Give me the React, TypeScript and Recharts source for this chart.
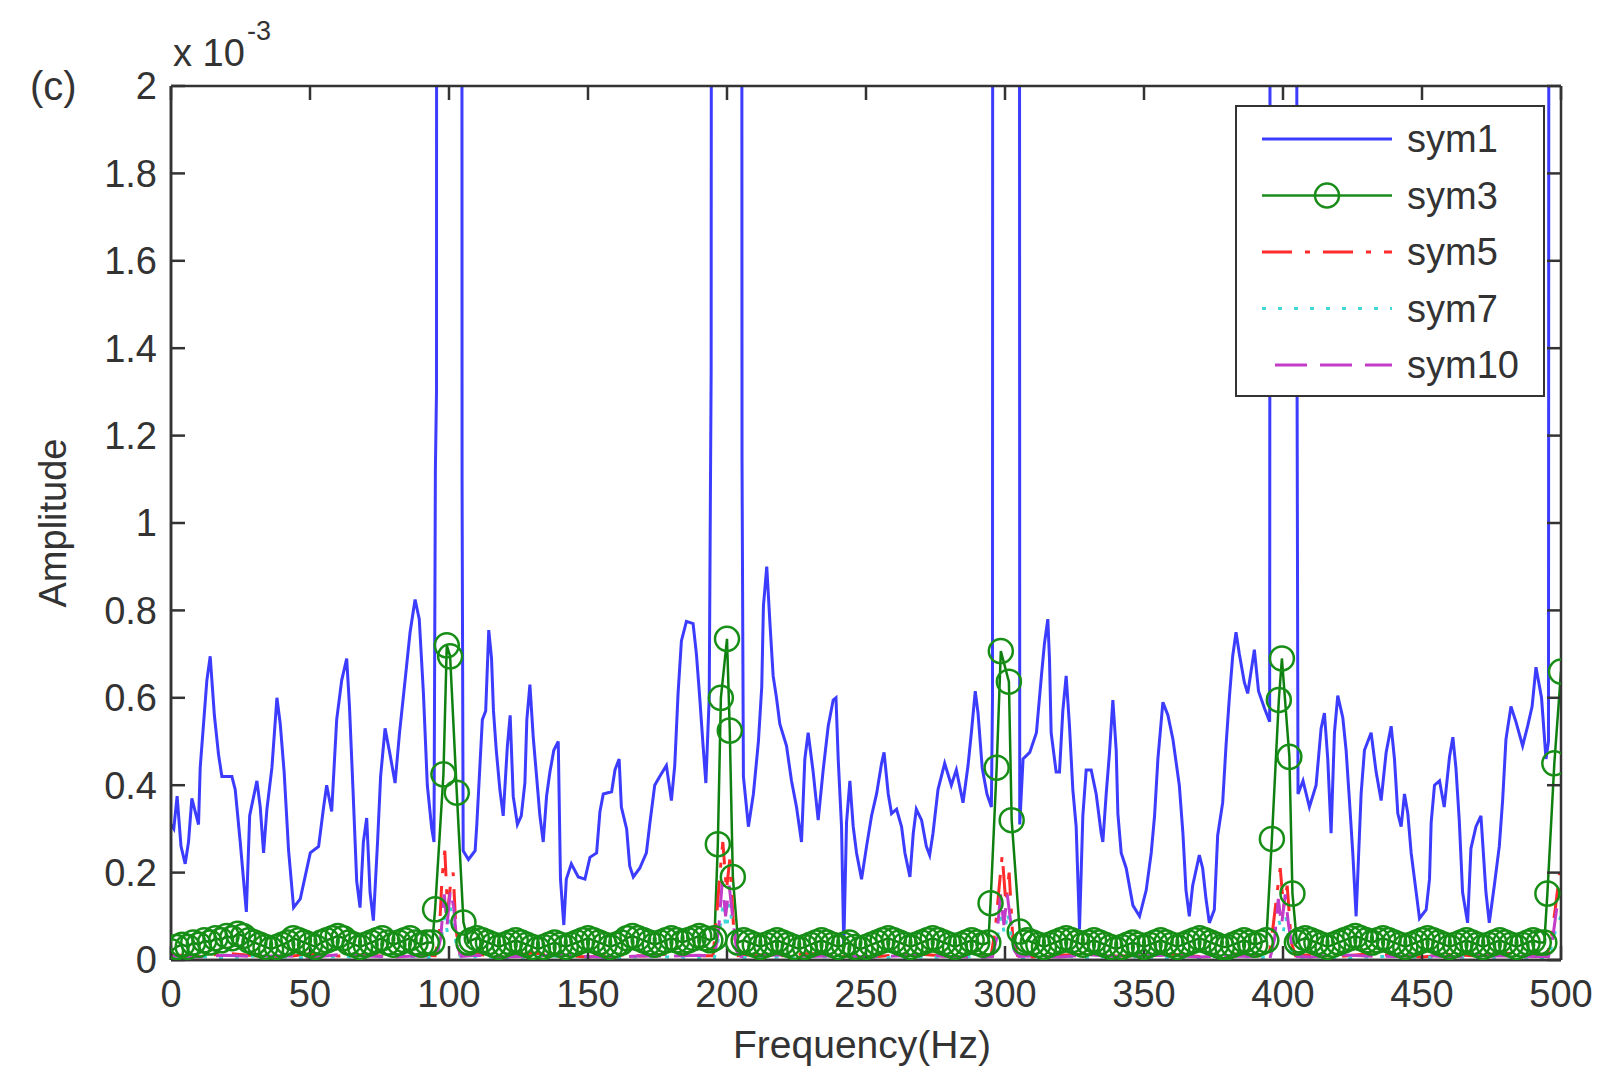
import React from 'react';
import { LineChart, Line, XAxis, YAxis, Legend } from 'recharts';

type Pt = [number, number];

const freqTicks = [0, 50, 100, 150, 200, 250, 300, 350, 400, 450, 500];
const ampTicks = [0, 0.2, 0.4, 0.6, 0.8, 1, 1.2, 1.4, 1.6, 1.8, 2];

// sym1 spectrum vertices (Hz, amplitude x1e-3); the 8s are the off-scale harmonics
const sym1Spectrum: Pt[] = [
  [0, 0.31], [1, 0.3], [2.2, 0.375], [3.6, 0.26], [5.1, 0.22], [6.3, 0.27], [7.5, 0.37], [9.9, 0.31],
  [10.5, 0.44], [12.9, 0.64], [14.1, 0.695], [15.6, 0.56], [17.1, 0.47], [18.3, 0.42], [21.9, 0.42],
  [23.1, 0.39], [24.9, 0.27], [27.1, 0.11], [28.3, 0.33], [30.9, 0.41], [32.1, 0.35], [33.3, 0.245],
  [34.5, 0.345], [36.3, 0.44], [38.1, 0.6], [39.3, 0.54], [40.7, 0.43], [42.3, 0.25], [44.1, 0.12],
  [46.5, 0.14], [50.1, 0.245], [53.1, 0.26], [54.9, 0.35], [56, 0.4], [57.8, 0.34], [59.6, 0.55],
  [61.4, 0.64], [63.2, 0.69], [64.2, 0.58], [65.4, 0.4], [66.8, 0.18], [68, 0.12], [69.2, 0.27],
  [70.4, 0.325], [71.6, 0.155], [72.8, 0.09], [74.3, 0.27], [75.4, 0.42], [77, 0.53], [78.8, 0.47],
  [80.6, 0.405], [82.2, 0.52], [84.2, 0.64], [86, 0.75], [87.8, 0.825], [89.3, 0.78], [90.8, 0.61],
  [92.2, 0.4], [93.8, 0.3], [94.6, 0.27], [95.1, 1.12], [95.5, 1.3], [95.8, 8], [104.4, 8],
  [104.7, 1.1], [105.1, 0.25], [107, 0.23], [109.4, 0.25], [110, 0.31], [111, 0.43], [112, 0.55],
  [113.2, 0.57], [114.3, 0.755], [115.3, 0.69], [116, 0.57], [117, 0.48], [118.3, 0.39], [119.5, 0.33],
  [121, 0.49], [122, 0.56], [123.1, 0.375], [124.6, 0.31], [126, 0.33], [127.3, 0.405], [128, 0.55],
  [129.1, 0.63], [130.3, 0.51], [131.5, 0.42], [132.7, 0.33], [133.9, 0.27], [135.1, 0.375],
  [136.3, 0.43], [137.7, 0.48], [139.3, 0.5], [140.1, 0.185], [141.3, 0.08], [142.2, 0.185],
  [144, 0.22], [146.5, 0.19], [148.9, 0.185], [150.7, 0.235], [153.1, 0.245], [154.3, 0.34],
  [155.5, 0.38], [158.5, 0.385], [159.7, 0.435], [161.2, 0.46], [162, 0.35], [163.9, 0.3],
  [165, 0.215], [166.3, 0.19], [168.6, 0.21], [171, 0.245], [172.2, 0.31], [174, 0.4], [175.8, 0.42],
  [178.2, 0.445], [180, 0.365], [181.2, 0.445], [182.4, 0.61], [183.6, 0.73], [185.4, 0.775],
  [187.8, 0.77], [189, 0.7], [190.2, 0.6], [191.4, 0.49], [192.4, 0.405], [193.6, 0.6], [194.3, 1.35],
  [194.8, 8], [205, 8], [205.4, 1.15], [205.9, 0.42], [207.7, 0.305], [209.5, 0.38], [211.3, 0.5],
  [212.5, 0.625], [213.1, 0.81], [214.3, 0.9], [215.5, 0.765], [216.6, 0.65], [217.8, 0.6], [219, 0.54],
  [221.4, 0.49], [223.2, 0.41], [225, 0.35], [226.8, 0.27], [228, 0.46], [229.2, 0.52], [231, 0.43],
  [232.8, 0.32], [234.6, 0.435], [236.4, 0.535], [238.2, 0.595], [239.2, 0.6], [240, 0.46],
  [241.2, 0.305], [242, 0.03], [243, 0.315], [244.2, 0.41], [245.4, 0.305], [246.6, 0.245],
  [248.4, 0.185], [250.2, 0.26], [252, 0.33], [253.8, 0.38], [255.6, 0.45], [256.5, 0.475], [258, 0.38],
  [259.2, 0.335], [261, 0.345], [262.8, 0.305], [264, 0.245], [265.8, 0.19], [267, 0.29], [268.1, 0.345],
  [270, 0.32], [271.7, 0.26], [272.9, 0.24], [274.1, 0.29], [275.9, 0.39], [278.3, 0.45], [280.7, 0.4],
  [282.5, 0.435], [284.9, 0.36], [286.7, 0.445], [287.9, 0.52], [289.3, 0.615], [290.3, 0.565],
  [291.8, 0.44], [293.5, 0.38], [295.1, 0.35], [295.5, 0.6], [295.8, 8], [305, 8], [305.3, 0.31],
  [306.5, 0.46], [308.9, 0.475], [311.3, 0.52], [313.1, 0.65], [314.2, 0.725], [315.4, 0.78], [316, 0.69],
  [316.6, 0.52], [318.4, 0.43], [319.6, 0.43], [320.8, 0.57], [322, 0.65], [323.2, 0.535], [324.4, 0.39],
  [325.6, 0.305], [326.8, 0.07], [328, 0.33], [329.2, 0.435], [331, 0.435], [332.8, 0.38], [334.6, 0.29],
  [335.2, 0.27], [336.4, 0.38], [337.6, 0.475], [338.8, 0.595], [340, 0.48], [340.6, 0.335],
  [341.8, 0.245], [343.6, 0.21], [346, 0.125], [348.4, 0.1], [350.8, 0.16], [352.6, 0.245], [353.8, 0.33],
  [355, 0.46], [356.8, 0.59], [358.6, 0.56], [360.4, 0.505], [362.7, 0.4], [364, 0.29], [365.1, 0.16],
  [366.3, 0.1], [367.5, 0.17], [369.9, 0.24], [371.1, 0.21], [372.3, 0.14], [373.5, 0.085],
  [375.3, 0.115], [376.5, 0.285], [378.3, 0.36], [379.5, 0.49], [380.7, 0.6], [381.9, 0.695],
  [383.1, 0.75], [384.3, 0.7], [386.1, 0.635], [387.3, 0.61], [389.7, 0.71], [391.2, 0.615],
  [393.4, 0.575], [395.2, 0.545], [395.8, 8], [404.6, 8], [405, 1.5], [405.4, 0.38], [407.2, 0.41],
  [409.5, 0.35], [411.9, 0.4], [413.7, 0.53], [414.9, 0.565], [416.1, 0.46], [417.3, 0.29], [418.5, 0.52],
  [419.7, 0.605], [421.5, 0.555], [422.7, 0.48], [423.9, 0.365], [425.1, 0.245], [426.3, 0.1],
  [428.1, 0.38], [429.3, 0.48], [431.7, 0.52], [433.5, 0.43], [435.3, 0.365], [437.1, 0.475],
  [438.9, 0.535], [440.1, 0.46], [441.3, 0.335], [442.5, 0.305], [443.7, 0.38], [444.9, 0.335],
  [446.1, 0.245], [447.3, 0.185], [449.1, 0.095], [451.5, 0.115], [452.7, 0.185], [453.3, 0.315],
  [454.5, 0.4], [456.3, 0.41], [458, 0.35], [459.9, 0.465], [461.1, 0.51], [462.2, 0.44], [463.4, 0.32],
  [464.6, 0.155], [466.4, 0.085], [467.6, 0.255], [469.4, 0.305], [471.2, 0.33], [473, 0.155],
  [474.2, 0.085], [476, 0.17], [477.8, 0.26], [479, 0.365], [480.2, 0.505], [482, 0.58], [483.8, 0.545],
  [486.2, 0.49], [488, 0.535], [489.6, 0.58], [491, 0.67], [493, 0.6], [494.6, 0.46], [495.5, 0.5],
  [496, 8], [500, 8],
];

// sym3: noise floor on a 2 Hz grid (0..500) plus the harmonic clusters
const sym3Floor = [
  0.02, 0.03, 0.035, 0.03, 0.04, 0.035, 0.045, 0.04, 0.05, 0.045,
  0.055, 0.05, 0.06, 0.055, 0.045, 0.04, 0.035, 0.03, 0.025, 0.03,
  0.035, 0.04, 0.05, 0.045, 0.04, 0.035, 0.03, 0.04, 0.045, 0.05,
  0.055, 0.05, 0.04, 0.035, 0.03, 0.035, 0.04, 0.045, 0.05, 0.04,
  0.035, 0.04, 0.045, 0.05, 0.04, 0.035, 0.04, 0.04, 0.04, 0.04,
  0.04, 0.04, 0.04, 0.04, 0.045, 0.05, 0.045, 0.04, 0.035, 0.03,
  0.035, 0.04, 0.045, 0.04, 0.035, 0.03, 0.025, 0.03, 0.035, 0.04,
  0.035, 0.03, 0.035, 0.04, 0.045, 0.05, 0.045, 0.04, 0.035, 0.03,
  0.035, 0.04, 0.05, 0.055, 0.05, 0.045, 0.04, 0.035, 0.04, 0.045,
  0.05, 0.045, 0.04, 0.045, 0.05, 0.055, 0.05, 0.045, 0.04, 0.04,
  0.04, 0.045, 0.05, 0.045, 0.04, 0.035, 0.03, 0.035, 0.04, 0.045,
  0.04, 0.035, 0.03, 0.025, 0.03, 0.035, 0.04, 0.045, 0.04, 0.035,
  0.03, 0.035, 0.04, 0.03, 0.025, 0.03, 0.035, 0.04, 0.045, 0.05,
  0.045, 0.04, 0.035, 0.03, 0.035, 0.04, 0.045, 0.05, 0.045, 0.04,
  0.035, 0.03, 0.035, 0.04, 0.045, 0.04, 0.035, 0.04, 0.04, 0.045,
  0.04, 0.04, 0.045, 0.05, 0.045, 0.04, 0.035, 0.03, 0.035, 0.04,
  0.045, 0.05, 0.045, 0.04, 0.035, 0.04, 0.045, 0.04, 0.035, 0.03,
  0.025, 0.03, 0.035, 0.04, 0.035, 0.03, 0.035, 0.04, 0.045, 0.04,
  0.035, 0.03, 0.035, 0.04, 0.045, 0.05, 0.045, 0.04, 0.035, 0.03,
  0.03, 0.035, 0.04, 0.045, 0.04, 0.035, 0.04, 0.045, 0.04, 0.04,
  0.04, 0.045, 0.04, 0.045, 0.05, 0.045, 0.04, 0.035, 0.03, 0.035,
  0.04, 0.045, 0.05, 0.055, 0.05, 0.045, 0.04, 0.045, 0.05, 0.045,
  0.04, 0.035, 0.03, 0.035, 0.04, 0.045, 0.05, 0.045, 0.04, 0.035,
  0.03, 0.035, 0.04, 0.045, 0.04, 0.035, 0.03, 0.035, 0.04, 0.045,
  0.04, 0.035, 0.03, 0.035, 0.04, 0.045, 0.04, 0.035, 0.04, 0.04, 0.04,
];
const sym3Peaks: Pt[][] = [
  [[94, 0.04], [95, 0.116], [98, 0.425], [99.2, 0.72], [100.4, 0.695], [102.8, 0.383], [105.2, 0.086], [107, 0.04]],
  [[195.5, 0.05], [196.7, 0.265], [197.8, 0.6], [200, 0.735], [201, 0.525], [202.1, 0.19], [204, 0.04]],
  [[294.8, 0.13], [297, 0.44], [298.5, 0.707], [301.4, 0.637], [302.4, 0.32], [305.3, 0.065], [307, 0.04]],
  [[394, 0.045], [396, 0.277], [398.5, 0.595], [399.6, 0.69], [402.3, 0.465], [403.4, 0.152], [405, 0.04]],
  [[494, 0.04], [495.1, 0.152], [497.6, 0.45], [500, 0.66]],
];

// sym5 / sym7 / sym10: floors on a 10 Hz grid plus the harmonic clusters
const sym5Floor = [
  0.012, 0.008, 0.015, 0.01, 0.006, 0.014, 0.009, 0.012, 0.007, 0.011,
  0.01, 0.013, 0.008, 0.016, 0.01, 0.007, 0.012, 0.009, 0.014, 0.01,
  0.008, 0.012, 0.01, 0.015, 0.009, 0.006, 0.011, 0.013, 0.008, 0.01,
  0.012, 0.007, 0.011, 0.014, 0.009, 0.01, 0.013, 0.008, 0.015, 0.01,
  0.009, 0.012, 0.008, 0.014, 0.011, 0.007, 0.013, 0.009, 0.016, 0.01, 0.01,
];
const sym5Peaks: Pt[][] = [
  [[95, 0.01], [96.5, 0.06], [97.5, 0.19], [98.5, 0.25], [99.5, 0.11], [100.5, 0.17], [101.5, 0.2], [102.5, 0.07], [104, 0.01]],
  [[195, 0.01], [196.5, 0.12], [197.5, 0.2], [198.5, 0.27], [199.8, 0.16], [201, 0.23], [202.5, 0.06], [204, 0.01]],
  [[295, 0.01], [296.5, 0.07], [297.8, 0.16], [299, 0.24], [300.3, 0.13], [301.5, 0.2], [302.8, 0.05], [304.5, 0.01]],
  [[395, 0.01], [396.5, 0.08], [397.8, 0.15], [399, 0.21], [400.2, 0.12], [401.5, 0.17], [403, 0.04], [404.5, 0.01]],
  [[495, 0.01], [496.5, 0.05], [498, 0.12], [499.5, 0.2], [500, 0.18]],
];
const sym7Floor = [
  0.006, 0.008, 0.005, 0.009, 0.007, 0.005, 0.008, 0.006, 0.009, 0.007,
  0.006, 0.008, 0.005, 0.007, 0.009, 0.006, 0.005, 0.008, 0.007, 0.006,
  0.008, 0.005, 0.007, 0.009, 0.006, 0.008, 0.005, 0.007, 0.006, 0.008,
  0.007, 0.005, 0.009, 0.006, 0.008, 0.007, 0.005, 0.006, 0.009, 0.007,
  0.006, 0.008, 0.005, 0.007, 0.009, 0.006, 0.008, 0.005, 0.007, 0.006, 0.007,
];
const sym7Peaks: Pt[][] = [
  [[95.5, 0.005], [97, 0.04], [98.5, 0.1], [99.5, 0.06], [100.5, 0.12], [101.5, 0.08], [103, 0.02], [104.5, 0.005]],
  [[195.5, 0.006], [197, 0.05], [198.5, 0.12], [199.8, 0.07], [201, 0.13], [202.3, 0.05], [204, 0.006]],
  [[295.5, 0.005], [297, 0.04], [298.5, 0.1], [299.8, 0.06], [301, 0.11], [302.5, 0.04], [304, 0.005]],
  [[395.5, 0.005], [397, 0.04], [398.5, 0.09], [400, 0.06], [401, 0.1], [402.5, 0.03], [404, 0.005]],
  [[495.5, 0.005], [497, 0.04], [498.5, 0.08], [500, 0.1]],
];
const sym10Floor = [
  0.009, 0.007, 0.011, 0.008, 0.01, 0.006, 0.012, 0.009, 0.007, 0.01,
  0.008, 0.011, 0.007, 0.009, 0.012, 0.008, 0.006, 0.01, 0.009, 0.011,
  0.007, 0.009, 0.012, 0.008, 0.01, 0.007, 0.009, 0.011, 0.008, 0.006,
  0.01, 0.009, 0.007, 0.012, 0.008, 0.01, 0.011, 0.007, 0.009, 0.008,
  0.01, 0.007, 0.012, 0.009, 0.008, 0.011, 0.007, 0.01, 0.009, 0.008, 0.009,
];
const sym10Peaks: Pt[][] = [
  [[95.5, 0.008], [97, 0.05], [98.3, 0.15], [99.3, 0.08], [100.5, 0.16], [101.7, 0.12], [103, 0.03], [104.5, 0.008]],
  [[195.5, 0.008], [197, 0.07], [198.3, 0.18], [199.5, 0.1], [200.8, 0.17], [202, 0.1], [203.5, 0.02], [205, 0.008]],
  [[295.5, 0.008], [297, 0.05], [298.4, 0.15], [299.6, 0.08], [300.8, 0.15], [302, 0.09], [303.5, 0.02], [305, 0.008]],
  [[395.5, 0.008], [397, 0.05], [398.3, 0.14], [399.5, 0.08], [400.8, 0.15], [402, 0.08], [403.5, 0.02], [405, 0.008]],
  [[495.5, 0.008], [497, 0.05], [498.5, 0.12], [500, 0.15]],
];

const AXIS = '#333333';
const FONT = '"Liberation Sans", Arial, Helvetica, sans-serif';

const toRows = (pts: Pt[]) => pts.map(([hz, amp]) => ({ hz, amp }));

// floor samples that fall inside a harmonic cluster are replaced by that cluster
function mergeFloor(floor: number[], step: number, clusters: Pt[][]) {
  const pts: Pt[] = floor
    .map((amp, i): Pt => [i * step, amp])
    .filter(([hz]) => !clusters.some((c) => hz >= c[0][0] && hz <= c[c.length - 1][0]));
  clusters.forEach((c) => pts.push(...c));
  pts.sort((a, b) => a[0] - b[0]);
  return toRows(pts);
}

const sym1Data = toRows(sym1Spectrum);
const sym3Data = mergeFloor(sym3Floor, 2, sym3Peaks);
const sym5Data = mergeFloor(sym5Floor, 10, sym5Peaks);
const sym7Data = mergeFloor(sym7Floor, 10, sym7Peaks);
const sym10Data = mergeFloor(sym10Floor, 10, sym10Peaks);

const SERIES = [
  { name: 'sym1', color: '#3c3cff', width: 3, dash: undefined as string | undefined, marker: false, x0: 25 },
  { name: 'sym3', color: '#1a8c1a', width: 2.5, dash: undefined, marker: true, x0: 25 },
  { name: 'sym5', color: '#ff2a2a', width: 3, dash: '30 13 5 13', marker: false, x0: 25 },
  { name: 'sym7', color: '#3fd6d6', width: 3, dash: '4 12', marker: false, x0: 25 },
  { name: 'sym10', color: '#c23cc8', width: 3, dash: '32 13', marker: false, x0: 38 },
];

function LegendBox() {
  return (
    <div style={{ width: 310, height: 292, background: '#fff', border: `2px solid ${AXIS}`, boxSizing: 'border-box' }}>
      <svg width={306} height={288} style={{ display: 'block' }}>
        {SERIES.map((s, i) => {
          const y = 32 + i * 56.5;
          return (
            <g key={s.name}>
              <line x1={s.x0} x2={155} y1={y} y2={y} stroke={s.color} strokeWidth={s.width} strokeDasharray={s.dash} />
              {s.marker && <circle cx={90} cy={y} r={12} fill="none" stroke={s.color} strokeWidth={2.5} />}
              <text x={170} y={y + 13} fontSize={38} fill={AXIS} fontFamily={FONT}>
                {s.name}
              </text>
            </g>
          );
        })}
      </svg>
    </div>
  );
}

const hiddenTick = () => <g />;
const axisLine = { stroke: AXIS, strokeWidth: 2.5 };
const tickStyle = { fill: AXIS, fontSize: 38, fontFamily: FONT };

export default function App() {
  return (
    <div style={{ position: 'absolute', left: 0, top: 0, width: 1617, height: 1092, background: '#fff', fontFamily: FONT }}>
      <LineChart width={1617} height={1092} margin={{ top: 86, right: 56, bottom: 52, left: 51 }}>
        {/* labelled axes, no tick marks */}
        <XAxis xAxisId="b" dataKey="hz" type="number" domain={[0, 500]} ticks={freqTicks} interval={0}
          allowDataOverflow height={80} tickSize={0} tickMargin={20} tickLine={false}
          axisLine={axisLine} tick={tickStyle} />
        <YAxis yAxisId="l" type="number" domain={[0, 2]} ticks={ampTicks} interval={0}
          allowDataOverflow width={120} tickSize={0} tickMargin={14} tickLine={false}
          axisLine={axisLine} tick={tickStyle} />
        {/* mirrored axes: inward tick marks on all four sides */}
        <XAxis xAxisId="bm" mirror dataKey="hz" type="number" domain={[0, 500]} ticks={freqTicks} interval={0}
          allowDataOverflow height={1} tickSize={14} axisLine={axisLine} tickLine={axisLine} tick={hiddenTick} />
        <XAxis xAxisId="tm" mirror orientation="top" dataKey="hz" type="number" domain={[0, 500]} ticks={freqTicks}
          interval={0} allowDataOverflow height={1} tickSize={14} axisLine={axisLine} tickLine={axisLine} tick={hiddenTick} />
        <YAxis yAxisId="lm" mirror type="number" domain={[0, 2]} ticks={ampTicks} interval={0}
          allowDataOverflow width={1} tickSize={14} axisLine={axisLine} tickLine={axisLine} tick={hiddenTick} />
        <YAxis yAxisId="rm" mirror orientation="right" type="number" domain={[0, 2]} ticks={ampTicks} interval={0}
          allowDataOverflow width={1} tickSize={14} axisLine={axisLine} tickLine={axisLine} tick={hiddenTick} />

        <Line xAxisId="b" yAxisId="l" data={sym1Data} dataKey="amp" name="sym1" type="linear"
          stroke={SERIES[0].color} strokeWidth={3} dot={false} activeDot={false} isAnimationActive={false} />
        <Line xAxisId="b" yAxisId="l" data={sym3Data} dataKey="amp" name="sym3" type="linear"
          stroke="#0f800f" strokeWidth={2.5}
          dot={{ r: 12, fill: 'none', stroke: '#178f17', strokeWidth: 2.5 }}
          activeDot={false} isAnimationActive={false} />
        <Line xAxisId="b" yAxisId="l" data={sym5Data} dataKey="amp" name="sym5" type="linear"
          stroke={SERIES[2].color} strokeWidth={3} strokeDasharray={SERIES[2].dash} dot={false} activeDot={false} isAnimationActive={false} />
        <Line xAxisId="b" yAxisId="l" data={sym7Data} dataKey="amp" name="sym7" type="linear"
          stroke={SERIES[3].color} strokeWidth={3} strokeDasharray={SERIES[3].dash} dot={false} activeDot={false} isAnimationActive={false} />
        <Line xAxisId="b" yAxisId="l" data={sym10Data} dataKey="amp" name="sym10" type="linear"
          stroke={SERIES[4].color} strokeWidth={3} strokeDasharray={SERIES[4].dash} dot={false} activeDot={false} isAnimationActive={false} />
        <Legend
          layout="vertical"
          align="center"
          verticalAlign="middle"
          content={() => <LegendBox />}
          wrapperStyle={{ left: 1235, top: 105, width: 310, height: 292 }}
        />
      </LineChart>

      {/* panel letter, exponent and axis titles */}
      <svg width={1617} height={1092} style={{ position: 'absolute', left: 0, top: 0, pointerEvents: 'none' }}>
        <text x={30} y={100} fontSize={40} fill={AXIS} fontFamily={FONT}>(c)</text>
        <text x={173} y={66} fontSize={38} fill={AXIS} fontFamily={FONT}>x 10</text>
        <text x={247} y={40} fontSize={27} fill={AXIS} fontFamily={FONT}>-3</text>
        <text x={66} y={523} fontSize={38} fill={AXIS} fontFamily={FONT} textAnchor="middle"
          transform="rotate(-90 66 523)">Amplitude</text>
        <text x={862} y={1058} fontSize={39} fill={AXIS} fontFamily={FONT} textAnchor="middle">Frequency(Hz)</text>
      </svg>
    </div>
  );
}
